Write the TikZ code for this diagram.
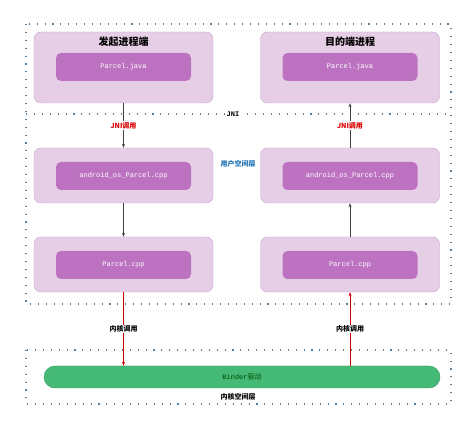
\documentclass[tikz,border=0pt]{standalone}
\usepackage{fontspec}
\setmonofont{Liberation Mono}
\newfontfamily\cjk{Noto Sans CJK SC}
\usetikzlibrary{arrows.meta}
\definecolor{procfill}{HTML}{E6CEE6}
\definecolor{procdraw}{HTML}{C9A0C9}
\definecolor{modfill}{HTML}{BC72C0}
\definecolor{binderfill}{HTML}{45B976}
\definecolor{binderdraw}{HTML}{2E9A5C}
\definecolor{dotline}{HTML}{5A7D9A}
\definecolor{userblue}{HTML}{1F72B4}

\begin{document}
\begin{tikzpicture}
		[x=1pt,y=-1pt,
		proc/.style={rectangle,rounded corners=7pt,draw=procdraw,fill=procfill,
inner sep=0pt,minimum width=179pt},
		module/.style={rectangle,rounded corners=5pt,fill=modfill,text=white,
inner sep=0pt,minimum width=135pt,minimum height=28pt,font=\ttfamily\fontsize{7}{8}\selectfont},
		title/.style={font=\cjk\bfseries\fontsize{10}{11}\selectfont},
		layer/.style={draw=dotline,line width=1.1pt,dash pattern=on 1.1pt off 6.8pt},
		calltext/.style={font=\cjk\bfseries\fontsize{7}{8}\selectfont,fill=white,inner sep=1pt,text=black},
		edgestyle/.style={-{Stealth[length=4pt,width=3pt]},semithick,black!75},
		kernelstyle/.style={-{Stealth[length=4pt,width=3pt]},semithick,red!80!black}]
		\useasboundingbox (0,0) rectangle (474,427);
		% layers
		\draw [layer] (26,24) rectangle (451,304);
		\draw [layer] (26,114) -- (451,114);
		\node at (233,114) (jni) [fill=white,inner sep=1pt,font=\bfseries\ttfamily\fontsize{7}{8}\selectfont] {JNI};
		\node at (238,164) (user) [font=\cjk\bfseries\fontsize{7}{8}\selectfont,text=userblue] {用户空间层};
		\draw [layer] (26,350) rectangle (451,404);
		% left process
		\node at (123.5,67.5) (ltop) [proc,minimum height=71pt] {};
		\node at (123.5,42) (ltitle) [title] {发起进程端};
		\node at (123.5,67) (ljava) [module] {Parcel.java};
		\node at (123.5,175.5) (lmid) [proc,minimum height=55pt] {};
		\node at (123.5,176) (ljni) [module] {android\_os\_Parcel.cpp};
		\node at (123.5,264.5) (lbot) [proc,minimum height=55pt] {};
		\node at (123.5,265) (lcpp) [module] {Parcel.cpp};
		% right process
		\node at (350,67.5) (rtop) [proc,minimum height=71pt] {};
		\node at (350,42) (rtitle) [title] {目的端进程};
		\node at (350,67) (rjava) [module] {Parcel.java};
		\node at (350,175.5) (rmid) [proc,minimum height=55pt] {};
		\node at (350,176) (rjni) [module] {android\_os\_Parcel.cpp};
		\node at (350,264.5) (rbot) [proc,minimum height=55pt] {};
		\node at (350,265) (rcpp) [module] {Parcel.cpp};
		% binder
		\node at (242,377) (binder) [rectangle,rounded corners=11pt,draw=binderdraw,fill=binderfill,
minimum width=396pt,minimum height=22pt,inner sep=0pt,text=black!70!green,
font=\fontsize{7}{8}\selectfont] {\texttt{Binder}{\cjk 驱动}};
		\node at (238,397) (kernel) [font=\cjk\bfseries\fontsize{7}{8}\selectfont] {内核空间层};
		% calls
		\draw [edgestyle] (ltop) -- node [calltext,text=red!85!black] {JNI调用} (lmid);
		\draw [edgestyle] (lmid) -- (lbot);
		\draw [kernelstyle] (lbot) -- node [calltext] {内核调用} (lbot |- binder.north);
		\draw [kernelstyle] (rbot |- binder.north) -- node [calltext] {内核调用} (rbot);
		\draw [edgestyle] (rbot) -- (rmid);
		\draw [edgestyle] (rmid) -- node [calltext,text=red!85!black] {JNI调用} (rtop);
	\end{tikzpicture}
\end{document}
